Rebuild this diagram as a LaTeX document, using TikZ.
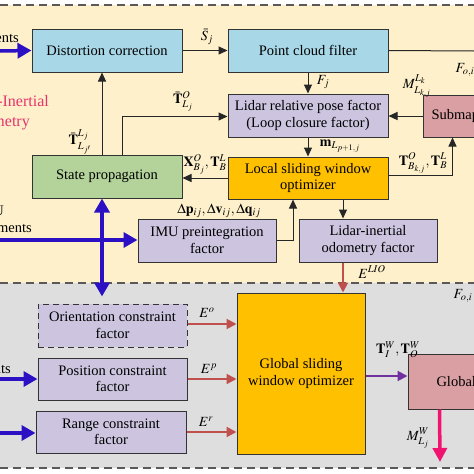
\documentclass[tikz,border=0pt]{standalone}
\usepackage{mathptmx}
\usepackage{fontspec}
\setmainfont{Liberation Serif}
\usetikzlibrary{arrows.meta}
\definecolor{cream}{HTML}{FDF0CB}
\definecolor{grayb}{HTML}{DEDEDE}
\definecolor{lblue}{HTML}{A8D8E8}
\definecolor{lav}{HTML}{CDC5E0}
\definecolor{lgreen}{HTML}{B3D39A}
\definecolor{orng}{HTML}{FFC000}
\definecolor{pinkb}{HTML}{D99FA3}
\definecolor{bluea}{HTML}{2B10C4}
\definecolor{reda}{HTML}{C0504D}
\definecolor{purpa}{HTML}{7030A0}
\definecolor{maga}{HTML}{F01470}
\definecolor{pinktxt}{HTML}{E6336B}
\definecolor{edge}{HTML}{333333}
\tikzset{
  box/.style={draw=edge, line width=1pt, align=center, inner sep=0pt,
    font=\fontsize{14.5}{16.5}\selectfont},
  lab/.style={inner sep=0pt, font=\fontsize{14}{16}\selectfont},
  arr/.style={draw=black!85, line width=1pt, -{Triangle[length=9pt,width=8pt]}},
  redarr/.style={draw=reda, line width=2pt, -{Triangle[length=10pt,width=10pt]}},
  purarr/.style={draw=purpa, line width=2pt, -{Triangle[length=10pt,width=10pt]}},
  magarr/.style={draw=maga, line width=3.5pt, -{Triangle[length=14pt,width=14pt]}},
  bluearr/.style={draw=bluea, line width=3.5pt, -{Triangle[length=14pt,width=15pt]}},
  dashline/.style={draw=black!65, line width=1.5pt, dash pattern=on 8pt off 5pt}
}
\begin{document}
\begin{tikzpicture}[x=1pt,y=-1pt]
\useasboundingbox (0,0) rectangle (474,474);
\clip (0,0) rectangle (474,474);
\fill[white] (0,0) rectangle (474,474);
\fill[cream] (0,5) rectangle (474,283);
\fill[grayb] (0,283) rectangle (474,468);
\draw[dashline] (0,5) -- (474,5);
\draw[dashline] (0,283) -- (474,283);
\draw[dashline] (0,468) -- (474,468);

% boxes
\node[box, fill=lblue, minimum width=150pt, minimum height=43pt] (dist) at (107,50.5) {Distortion correction};
\node[box, fill=lblue, minimum width=160pt, minimum height=43pt] (pcf) at (308,50.5) {Point cloud filter};
\node[box, fill=lav, minimum width=160pt, minimum height=43pt] (lrp) at (308,115.5) {Lidar relative pose factor\\(Loop closure factor)};
\node[box, fill=pinkb, minimum width=107pt, minimum height=42pt] (sub) at (476.5,116) {};
\node[box, draw=none, anchor=west] at (431,116) {Submap};
\node[box, fill=orng, minimum width=160pt, minimum height=42pt] (loc) at (308,178) {Local sliding window\\optimizer};
\node[box, fill=lgreen, minimum width=150pt, minimum height=43pt] (st) at (107,176.5) {State propagation};
\node[box, fill=lav, minimum width=138pt, minimum height=43pt] (imu) at (207,240.5) {IMU preintegration\\factor};
\node[box, fill=lav, minimum width=138pt, minimum height=43pt] (lio) at (368,240.5) {Lidar-inertial\\odometry factor};
\node[box, fill=lav, dashed, dash pattern=on 6pt off 4pt, minimum width=149pt, minimum height=43pt] (ori) at (112.5,325.5) {Orientation constraint\\factor};
\node[box, fill=lav, minimum width=149pt, minimum height=42pt] (pos) at (112.5,379) {Position constraint\\factor};
\node[box, fill=lav, minimum width=150pt, minimum height=42pt] (rng) at (111,432) {Range constraint\\factor};
\node[box, fill=orng, minimum width=128pt, minimum height=161pt] (gsw) at (301,373.5) {Global sliding\\window optimizer};
\node[box, fill=pinkb, minimum width=112pt, minimum height=55pt] (gb) at (464,381.5) {};
\node[box, draw=none, anchor=west] at (436,381.5) {Global};

% side texts
\node[lab, anchor=east, font=\fontsize{14.5}{16.5}\selectfont] at (19,38) {measurements};
\node[lab, anchor=east, font=\fontsize{14.5}{16.5}\selectfont] at (32,228) {IMU measurements};
\node[lab, anchor=east, font=\fontsize{14.5}{16.5}\selectfont] at (4,211) {IMU};
\node[lab, anchor=east, font=\fontsize{14.5}{16.5}\selectfont] at (11,369) {measurements};
\node[lab, anchor=east, text=pinktxt, font=\fontsize{16}{17}\selectfont] at (49,101) {Lidar-Inertial};
\node[lab, anchor=east, text=pinktxt, font=\fontsize{16}{17}\selectfont] at (30,123) {Odometry};

% connectors top
\coordinate (pcfout) at (474,51);
\draw[draw=black!85, line width=1pt] (pcf.east) -- (pcfout);
\draw[arr] (dist.east) -- (pcf.west);
\draw[arr] (pcf.south) -- (lrp.north);
\draw[arr] (sub.west) -- (sub.west -| lrp.east);
\draw[arr] (lrp.south) -- (loc.north);
\draw[arr] ([yshift=3pt]loc.east) -| ([xshift=30pt]sub.south west);
\draw[arr] (loc.west) -- (loc.west -| st.east);
\draw[arr] ([xshift=-5pt]st.north) -- ([xshift=-5pt]st.north |- dist.south);
\coordinate (lrpin) at ([yshift=-1pt]lrp.west);
\draw[arr] ([xshift=15pt]st.north) |- (lrpin);
\draw[arr] (imu.east) -| ([xshift=-15pt]loc.south);
\coordinate (lioin) at ([xshift=-25pt]lio.north);
\draw[arr] (loc.south -| lioin) -- (lioin);
\coordinate (lioout) at ([xshift=-25pt]lio.south);
\draw[redarr] (lioout) -- (lioout |- gsw.north);
\draw[redarr] ([yshift=1.5pt]ori.east) -- ([yshift=1.5pt]ori.east -| gsw.west);
\draw[redarr] (pos.east) -- (pos.east -| gsw.west);
\draw[redarr] (rng.east) -- (rng.east -| gsw.west);
\coordinate (gbin) at ([yshift=5.5pt]gb.west);
\draw[purarr] (gsw.east |- gbin) -- (gbin);
\coordinate (gbout) at ([xshift=32pt]gb.south west);
\coordinate (mend) at (440,462);
\draw[magarr] (gbout) -- (mend);

% blue arrows
\coordinate (b1) at (0,51);
\draw[bluearr] (b1) -- (dist.west);
\coordinate (b2) at (0,240);
\draw[bluearr] (b2) -- (b2 -| imu.west);
\coordinate (b3) at (0,379);
\draw[bluearr] (b3) -- (pos.west);
\coordinate (b4) at (0,433);
\draw[bluearr] (b4) -- (b4 -| rng.west);
\draw[bluearr, {Triangle[length=14pt,width=15pt]}-{Triangle[length=14pt,width=15pt]}, shorten >=7pt]
  ([xshift=-5pt]st.south) -- ([xshift=-5pt]st.south |- ori.north);

% labels
\node[lab] at (207,37) {$\bar{S}_{j}$};
\node[lab] at (323,82) {$F_{j}$};
\node[lab] at (417,86) {$M^{L_k}_{L_{k,j}}$};
\node[lab] at (183,101) {$\bar{\mathbf{T}}^{O}_{L_j}$};
\node[lab] at (80,142) {$\bar{\mathbf{T}}^{L_j}_{L_{j'}}$};
\node[lab] at (340,146) {$\mathbf{m}_{L_{p+1,j}}$};
\node[lab] at (205,164) {$\mathbf{X}^{O}_{B_j},\mathbf{T}^{L}_{B}$};
\node[lab] at (423,163) {$\mathbf{T}^{O}_{B_{k,j}},\mathbf{T}^{L}_{B}$};
\node[lab] at (219,211) {$\Delta\mathbf{p}_{ij},\Delta\mathbf{v}_{ij},\Delta\mathbf{q}_{ij}$};
\node[lab] at (372,272) {$E^{LIO}$};
\node[lab] at (207,313) {$E^{o}$};
\node[lab] at (209,369) {$E^{p}$};
\node[lab] at (206,422) {$E^{r}$};
\node[lab] at (398,350) {$\mathbf{T}^{W}_{I},\mathbf{T}^{W}_{O}$};
\node[lab] at (418,438) {$M^{W}_{L_j}$};
\node[lab] at (465,70) {$F_{o,i}$};
\node[lab] at (463,296) {$F_{o,i}$};
\end{tikzpicture}
\end{document}
